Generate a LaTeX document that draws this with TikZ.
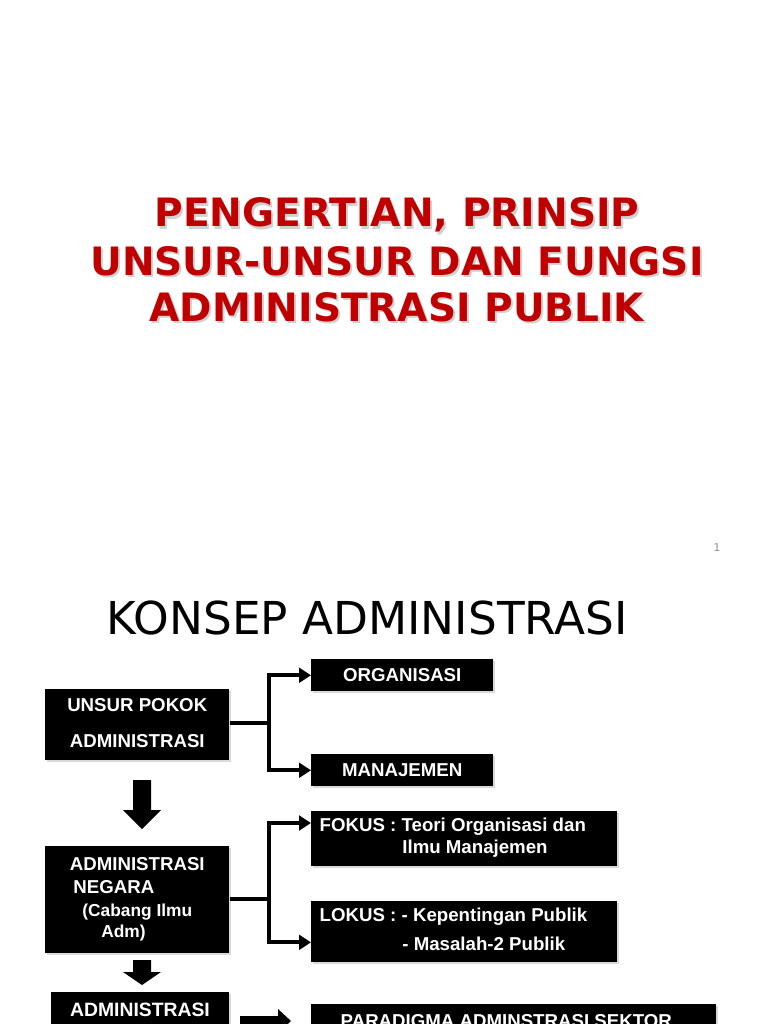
\documentclass[tikz,border=0pt]{standalone}
\usepackage{fontspec}
\setmainfont{Liberation Sans}
\newfontfamily\dejavu{DejaVu Sans}
\usetikzlibrary{shadows,arrows.meta}
\definecolor{titlered}{RGB}{192,0,0}
\tikzset{
  bx/.style={fill=black,text=white,font=\bfseries\fontsize{14}{16}\selectfont,inner sep=0pt,anchor=north west,
    drop shadow={shadow xshift=1.5pt,shadow yshift=-1.5pt,opacity=0.3}},
  conn/.style={line width=3pt,-{Triangle[length=9pt,width=11pt]}},
  blk/.style={fill=black},
}
\begin{document}
\begin{tikzpicture}[x=0.75pt,y=-0.75pt]
\useasboundingbox (0,0) rectangle (768,1024);
\clip (0,0) rectangle (768,1024);
% title
\foreach \t/\yy in {{PENGERTIAN, PRINSIP}/215,{UNSUR-UNSUR DAN FUNGSI}/261,{ADMINISTRASI PUBLIK}/307}{
  \node[text=black!18,font=\dejavu\bfseries\fontsize{29.3}{34}\selectfont] at (399,\yy+2.5) {\t};
  \node[text=titlered,font=\dejavu\bfseries\fontsize{29.3}{34}\selectfont] (t\yy) at (397,\yy) {\t};
}
\node[text=black!45,font=\dejavu\fontsize{8}{10}\selectfont] (pg) at (717,548) {1};
\node[font=\dejavu\fontsize{34}{40}\selectfont] (konsep) at (367,618) {KONSEP ADMINISTRASI};
% boxes
\node[bx,minimum width=184*0.75pt,minimum height=71*0.75pt,align=center] (A) at (45,689)
  {\begin{tabular}{@{}c@{}}UNSUR POKOK\\[11pt]ADMINISTRASI\end{tabular}};
\node[bx,minimum width=182*0.75pt,minimum height=32*0.75pt] (O) at (311,659) {ORGANISASI};
\node[bx,minimum width=182*0.75pt,minimum height=32*0.75pt] (M) at (311,754) {MANAJEMEN};
\node[bx,minimum width=184*0.75pt,minimum height=107*0.75pt,align=center] (B) at (45,846)
  {\begin{tabular}{@{}c@{}}ADMINISTRASI\\[1pt]NEGARA\hspace*{2.5em}\\[1pt]{\fontsize{13}{14}\selectfont(Cabang Ilmu}\\{\fontsize{13}{14}\selectfont Adm)\hspace*{1.6em}}\end{tabular}};
\node[bx,minimum width=306*0.75pt,minimum height=55*0.75pt] (F) at (311,811) {};
\node[anchor=north west,text=white,font=\bfseries\fontsize{14}{17}\selectfont,align=left] (Ft) at (315,813)
  {FOKUS : Teori Organisasi dan\\\hspace*{62pt}Ilmu Manajemen};
\node[bx,minimum width=306*0.75pt,minimum height=61*0.75pt] (L) at (311,901) {};
\node[anchor=north west,text=white,font=\bfseries\fontsize{14}{17}\selectfont,align=left] (Lt) at (315,903)
  {LOKUS : - Kepentingan Publik\\[5pt]\hspace*{62pt}- Masalah-2 Publik};
\node[bx,minimum width=178*0.75pt,minimum height=60*0.75pt,anchor=north west] (C) at (51,992) {};
\node[text=white,font=\bfseries\fontsize{14.5}{16}\selectfont] (Ct) at (140,1010) {ADMINISTRASI};
\node[bx,minimum width=405*0.75pt,minimum height=40*0.75pt] (P) at (311,1004) {};
\node[text=white,font=\bfseries\fontsize{14}{16}\selectfont,anchor=west] (Pt) at (336,1021) {PARADIGMA ADMINSTRASI SEKTOR};
% connectors
\coordinate (j1) at (269,723);
\draw[line width=3pt] (A.east|-j1) -- (j1);
\draw[conn] (j1) |- (O.west);
\draw[conn] (j1) |- (M.west);
\coordinate (j2) at (269,899);
\draw[line width=3pt] (B.east|-j2) -- (j2);
\draw[conn] (j2) |- ([yshift=-9pt]F.north west);
\draw[conn] (j2) |- ([yshift=-31pt]L.north west);
% block arrows
\fill[blk] (133,780) -- (151,780) -- (151,810) -- (161,810) -- (142,829) -- (123,810) -- (133,810) -- cycle;
\fill[blk] (133,960) -- (151,960) -- (151,972) -- (161,972) -- (142,985) -- (123,972) -- (133,972) -- cycle;
\fill[blk] (240,1016) -- (278,1016) -- (278,1009) -- (291,1021) -- (278,1033) -- (278,1026) -- (240,1026) -- cycle;
\end{tikzpicture}
\end{document}
